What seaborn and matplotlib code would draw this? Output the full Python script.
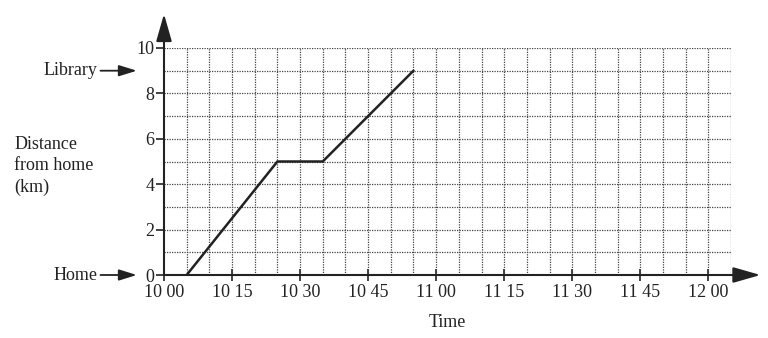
import matplotlib
matplotlib.use("Agg")
import matplotlib.pyplot as plt
import seaborn as sns
import pandas as pd
import numpy as np

# Data (minutes after 10:00, distance km)
minutes = [5, 25, 35, 55]
distance_km = [0, 5, 5, 9]
tick_minutes = [0, 15, 30, 45, 60, 75, 90, 105, 120]
tick_labels = ["10 00", "10 15", "10 30", "10 45", "11 00", "11 15", "11 30", "11 45", "12 00"]
y_ticks = [0, 2, 4, 6, 8, 10]

sns.set_theme(style="white")
plt.rcParams['font.family'] = ['Liberation Serif', 'DejaVu Serif']

FS = 13
INK = "#222222"

df = pd.DataFrame({"minutes": minutes, "distance": distance_km})

fig = plt.figure(figsize=(7.68, 3.38), dpi=100)
ax = fig.add_axes([164/768, 63/338, 567/768, 227/338])

# grid
for gx in np.arange(5, 126, 5):
    ax.axvline(gx, color="#444444", lw=0.9, ls=(0, (1, 1)), zorder=1)
for gy in np.arange(1, 11, 1):
    ax.axhline(gy, color="#444444", lw=0.9, ls=(0, (1, 1)), zorder=1)

sns.lineplot(data=df, x="minutes", y="distance", ax=ax, color=INK, lw=1.8,
             zorder=3, legend=False)

ax.set_xlim(0, 125)
ax.set_ylim(0, 10)
for s in ax.spines.values():
    s.set_visible(False)

# axes with arrows
arrow_kw = dict(arrowstyle="-|>,head_length=1.4,head_width=0.4", color=INK, lw=1.5,
                shrinkA=0, shrinkB=0)
ax.annotate("", xy=(131.5, 0), xytext=(0, 0), arrowprops=arrow_kw,
            annotation_clip=False, zorder=4)
ax.annotate("", xy=(0, 11.5), xytext=(0, 0), arrowprops=arrow_kw,
            annotation_clip=False, zorder=4)

ax.set_xticks(tick_minutes)
ax.set_xticklabels(tick_labels)
ax.set_yticks(y_ticks)
ax.tick_params(axis="x", direction="inout", length=9, width=1.2, color=INK,
               labelsize=FS, pad=2, bottom=True)
ax.tick_params(axis="y", direction="out", length=6, width=1.2, color=INK,
               labelsize=FS, pad=1, left=True)
ax.set_xlabel("Time", fontsize=FS, labelpad=9)
ax.set_ylabel("")
ax.xaxis.label.set_color(INK)
for t in ax.get_xticklabels() + ax.get_yticklabels():
    t.set_color(INK)

# side labels
small_arrow = dict(arrowstyle="-|>,head_length=0.9,head_width=0.28", color=INK, lw=1.3,
                   shrinkA=0, shrinkB=0)
ax.text(-14.7, 9, "Library", ha="right", va="center", fontsize=FS, color=INK)
ax.annotate("", xy=(-6, 9), xytext=(-14, 9), arrowprops=small_arrow,
            annotation_clip=False)
ax.text(-14.7, 0, "Home", ha="right", va="center", fontsize=FS, color=INK)
ax.annotate("", xy=(-6, 0), xytext=(-14, 0), arrowprops=small_arrow,
            annotation_clip=False)
ax.text(-33, 4.8, "Distance\nfrom home\n(km)", ha="left", va="center", fontsize=FS,
        color=INK, linespacing=1.32)

fig.savefig("out.png", dpi=100)
